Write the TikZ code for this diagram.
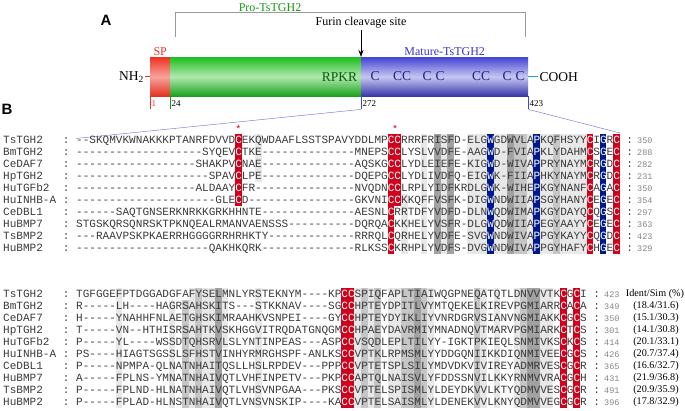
\documentclass[tikz,border=0pt]{standalone}
\usepackage{fontspec}
\setmainfont{Liberation Serif}
\setsansfont{Liberation Sans}
\setmonofont{Liberation Mono}
\usetikzlibrary{positioning,arrows.meta}
\definecolor{seqgray}{HTML}{3A3A3A}
\definecolor{numgray}{HTML}{858585}
\definecolor{cysred}{HTML}{D0021B}
\definecolor{consblue}{HTML}{00188F}
\definecolor{lgray}{HTML}{E8E8E8}
\definecolor{mgray}{HTML}{C6C6C6}
\definecolor{dgray}{HTML}{A2A2A2}
\definecolor{spred}{HTML}{EE3322}
\definecolor{progreen}{HTML}{1EBE1E}
\definecolor{matblue}{HTML}{4444D4}
\definecolor{protext}{HTML}{139A13}
\definecolor{mattext}{HTML}{3535C8}
\definecolor{rpkrgreen}{HTML}{0A5A0A}
\definecolor{cysblue}{HTML}{20207A}
\definecolor{zoomline}{HTML}{6A6AD0}
\definecolor{coohblue}{HTML}{2299EE}
\newcommand{\wh}[1]{\textcolor{white}{#1}}
\newcommand{\colx}[1]{76+(#1-1)*6.63}

\begin{document}
\begin{tikzpicture}[x=1pt,y=-1pt,
  seq/.style={font=\ttfamily\fontsize{11.05}{12}\selectfont, text=seqgray, inner sep=0pt, anchor=base west},
  seqnum/.style={font=\ttfamily\fontsize{8.5}{10}\selectfont, text=numgray, inner sep=0pt, anchor=base west},
  star/.style={font=\ttfamily\fontsize{10}{10}\selectfont, text=cysred, inner sep=0pt, anchor=base},
  lab/.style={font=\fontsize{13.5}{15}\selectfont, inner sep=1pt},
  tag/.style={font=\fontsize{12}{14}\selectfont, inner sep=1pt},
  poslab/.style={font=\fontsize{9}{10}\selectfont, inner sep=0pt, anchor=west},
  panel/.style={font=\sffamily\bfseries\fontsize{15}{15}\selectfont, inner sep=0pt},
  domainbox/.style={minimum height=39pt, inner sep=0pt, anchor=north west},
  simval/.style={font=\fontsize{10.2}{12}\selectfont, inner sep=0pt}]
\useasboundingbox (0,0) rectangle (685,410);

% A: domain structure
\node[panel] (panA) at (106,20) {A};
\node[domainbox, minimum width=20pt, top color=spred, bottom color=spred!95!black, middle color=spred!45] (sp) at (150,57) {};
\node[domainbox, minimum width=191pt, top color=progreen, bottom color=progreen!85!black, middle color=progreen!35] (pro) at (170,57) {};
\node[domainbox, minimum width=167pt, top color=matblue, bottom color=matblue!80!black, middle color=matblue!30] (mat) at (361,57) {};
\node[tag, text=spred, above=0pt of sp] (sptag) {SP};
\node[tag, text=mattext, above=0pt of mat] (mattag) {Mature-TsTGH2};
\node[tag, text=protext, anchor=south] (protag) at (270,12.5) {Pro-TsTGH2};
\node[tag] (furin) at (361,23) {Furin cleavage site};
\draw[gray!80, line width=1pt] (175,37) |- (525,12) -- (525,37);
\draw[-{Stealth[length=7pt,width=5pt]}, line width=0.8pt] (furin.south) -- (mat.north west);
\node[lab, left=5pt of sp.west] (nh2) {NH\textsubscript{2}};
\node[lab, right=10pt of mat.east] (cooh) {COOH};
\draw[spred, line width=1pt] (nh2) -- (sp);
\draw[coohblue, line width=1pt] (mat) -- (cooh);
\node[lab, text=rpkrgreen, left=3pt of pro.east] (rpkr) {RPKR};
\foreach \cx/\ct [count=\i] in {375/C, 402/CC, 427/C, 440/C, 481/CC, 507/C, 520/C}
  \node[lab, text=cysblue] (cys\i) at (\cx,76.5) {\ct};
\draw[spred] (sp.south west) -- ++(0,13) coordinate (t1);
\draw[progreen!80!black] (pro.south west) -- ++(0,13) coordinate (t24);
\draw[matblue] (mat.south west) -- ++(0,13) coordinate (t272);
\draw[matblue] (mat.south east) -- ++(0,13) coordinate (t423);
\node[poslab, text=spred] (p1) at (151.5,104) {1};
\node[poslab] (p24) at (171.5,104) {24};
\node[poslab] (p272) at (362.5,104) {272};
\node[poslab] (p423) at (529.5,104) {423};
\coordinate (zoomend) at (620,133);
\draw[zoomline] (t272) -- (76,138.5);
\draw[zoomline] (t423) -- (zoomend);

% B: alignment
\node[panel] (panB) at (7,109) {B};
% shading of conserved columns
\foreach \c/\a/\b/\lv in {28/1/4/lgray, 50/6/10/lgray, 53/1/10/lgray, 55/1/10/dgray, 56/1/10/lgray,
    57/1/10/dgray, 60/1/10/lgray, 61/1/10/lgray, 62/1/10/lgray, 64/1/10/lgray, 65/1/10/lgray,
    66/1/10/dgray, 67/1/10/mgray, 68/1/10/mgray, 69/1/10/lgray, 71/1/10/lgray, 72/1/10/lgray,
    73/1/10/mgray, 74/1/10/lgray, 75/1/10/lgray, 76/1/10/lgray, 77/1/10/lgray,
    25/1/6/cysred, 48/1/10/cysred, 49/1/6/cysred, 78/1/10/cysred, 82/1/10/cysred,
    63/1/10/consblue, 70/1/10/consblue, 80/1/10/consblue}
  \fill[\lv] ({\colx{\c}},{140+12*(\a-1)-6}) rectangle ({\colx{\c}+6.63},{140+12*(\b-1)+6});
\foreach \c/\a/\b/\lv in {7/1/10/lgray, 15/2/10/lgray, 17/2/10/mgray, 18/1/10/lgray, 19/1/10/mgray,
    20/1/10/lgray, 21/1/10/lgray, 22/1/10/dgray, 23/1/5/lgray, 28/1/10/lgray, 43/1/10/lgray,
    44/1/10/mgray, 45/1/10/lgray, 46/1/10/mgray, 48/1/10/lgray, 49/1/10/lgray, 50/1/10/mgray,
    51/1/10/mgray, 52/1/10/dgray, 53/1/10/mgray, 54/1/10/lgray, 61/1/10/mgray, 62/1/10/lgray,
    64/1/10/lgray, 67/1/10/lgray, 68/1/10/mgray, 69/1/10/dgray, 70/1/10/dgray, 71/1/10/lgray,
    72/1/10/lgray, 41/1/10/cysred, 42/1/10/cysred, 74/1/10/cysred, 76/1/10/cysred}
  \fill[\lv] ({\colx{\c}},{294+12*(\a-1)-6}) rectangle ({\colx{\c}+6.63},{294+12*(\b-1)+6});
\node[star] (ast1) at ({\colx{25}+3.3},132) {*};
\node[star] (ast2) at (395,132) {*};

\foreach \nm/\sq/\len [count=\r] in {
  TsTGH2/{--SKQMVKWNAKKKPTANRFDVVD\wh{C}EKQWDAAFLSSTSPAVYDDLMP\wh{C}\wh{C}RRRFRISFD-ELG\wh{W}GDWVLA\wh{P}KQFHSYY\wh{C}I\wh{G}R\wh{C}}/350,
  BmTGH2/{-------------------SYQEV\wh{C}TKE--------------MNEPS\wh{C}\wh{C}LYSLVVDFE-AAG\wh{W}D-FVIA\wh{P}KLYDAHM\wh{C}S\wh{G}E\wh{C}}/288,
  CeDAF7/{------------------SHAKPV\wh{C}NAE--------------AQSKG\wh{C}\wh{C}LYDLEIEFE-KIG\wh{W}D-WIVA\wh{P}PRYNAYM\wh{C}R\wh{G}D\wh{C}}/282,
  HpTGH2/{--------------------SPAV\wh{C}LPE--------------DQEPG\wh{C}\wh{C}LYDLIVDFQ-EIG\wh{W}K-FIIA\wh{P}HKYNAYM\wh{C}R\wh{G}D\wh{C}}/231,
  HuTGFb2/{------------------ALDAAY\wh{C}FR---------------NVQDN\wh{C}\wh{C}LRPLYIDFKRDLG\wh{W}K-WIHE\wh{P}KGYNANF\wh{C}A\wh{G}A\wh{C}}/350,
  HuINHB-A/{---------------------GLE\wh{C}D----------------GKVNI\wh{C}\wh{C}KKQFFVSFK-DIG\wh{W}NDWIIA\wh{P}SGYHANY\wh{C}E\wh{G}E\wh{C}}/354,
  CeDBL1/{------SAQTGNSERKNRKKGRKHHNTE--------------AESNL\wh{C}RRTDFYVDFD-DLN\wh{W}QDWIMA\wh{P}KGYDAYQ\wh{C}Q\wh{G}S\wh{C}}/297,
  HuBMP7/{STGSKQRSQNRSKTPKNQEALRMANVAENSSS----------DQRQA\wh{C}KKHELYVSFR-DLG\wh{W}QDWIIA\wh{P}EGYAAYY\wh{C}E\wh{G}E\wh{C}}/363,
  TsBMP2/{---RAAVPSKPKAERRHGGGGRRHRHKTY-------------RRRQL\wh{C}QRHELYVDFE-SVG\wh{W}NDWIVA\wh{P}PGYKAYY\wh{C}Q\wh{G}D\wh{C}}/423,
  HuBMP2/{--------------------QAKHKQRK--------------RLKSS\wh{C}KRHPLYVDFS-DVG\wh{W}NDWIVA\wh{P}PGYHAFY\wh{C}H\wh{G}E\wh{C}}/329}{
  \pgfmathsetmacro{\yb}{140+12*(\r-1)+3.3}
  \node[seq] (na\r) at (3,\yb) {\nm};
  \node[seq] (ca\r) at ({3+9*6.63},\yb) {:};
  \node[seq] (sa\r) at (76,\yb) {\sq};
  \node[seq] (ea\r) at ({\colx{84}},\yb) {:};
  \node[seqnum] (la\r) at (637,\yb) {\len};
}

\foreach \nm/\sq/\len [count=\r] in {
  TsTGH2/{TGFGGEFPTDGGADGFAFYSELMNLYRSTEKNYM----KP\wh{C}\wh{C}SPIQFAPLTIAIWQGPNEQATQTLDNVVVTK\wh{C}G\wh{C}I}/423,
  BmTGH2/{R-----LH----HAGRSAHSKITS---STKKNAV----SG\wh{C}\wh{C}HPTEYDPITLVYMTQEKELKIREVPGMIARR\wh{C}A\wh{C}A}/349,
  CeDAF7/{H-----YNAHHFNLAETGHSKIMRAAHKVSNPEI----GY\wh{C}\wh{C}HPTEYDYIKLIYVNRDGRVSIANVNGMIAKK\wh{C}G\wh{C}S}/350,
  HpTGH2/{T-----VN--HTHISRSAHTKVSKHGGVITRQDATGNQGM\wh{C}\wh{C}HPAEYDAVRMIYMNADNQVTMARVPGMIARK\wh{C}T\wh{C}S}/301,
  HuTGFb2/{P-----YL----WSSDTQHSRVLSLYNTINPEAS---ASP\wh{C}\wh{C}VSQDLEPLTILYY-IGKTPKIEQLSNMIVKS\wh{C}K\wh{C}S}/414,
  HuINHB-A/{PS----HIAGTSGSSLSFHSTVINHYRMRGHSPF-ANLKS\wh{C}\wh{C}VPTKLRPMSMLYYDDGQNIIKKDIQNMIVEE\wh{C}G\wh{C}S}/426,
  CeDBL1/{P-----NPMPA-QLNATNHAITQSLLHSLRPDEV---PPP\wh{C}\wh{C}VPTETSPLSILYMDVDKVIVIREYADMRVES\wh{C}G\wh{C}R}/365,
  HuBMP7/{A-----FPLNS-YMNATNHAIVQTLVHFINPETV---PKP\wh{C}\wh{C}APTQLNAISVLYFDDSSNVILKKYRNMVVRA\wh{C}G\wh{C}H}/431,
  TsBMP2/{P-----FPLND-HLNATNHAIVQTLVHSVNPGAA---PKS\wh{C}\wh{C}VPTELSPISMLYLDEYDKVVLKTYQDMVVES\wh{C}G\wh{C}R}/491,
  HuBMP2/{P-----FPLAD-HLNSTNHAIVQTLVNSVNSKIP----KA\wh{C}\wh{C}VPTELSAISMLYLDENEKVVLKNYQDMVVEG\wh{C}G\wh{C}R}/396}{
  \pgfmathsetmacro{\yb}{294+12*(\r-1)+3.3}
  \node[seq] (nb\r) at (3,\yb) {\nm};
  \node[seq] (cb\r) at ({3+9*6.63},\yb) {:};
  \node[seq] (sb\r) at (76,\yb) {\sq};
  \node[seq] (eb\r) at ({\colx{79}},\yb) {:};
  \node[seqnum] (lb\r) at (604,\yb) {\len};
}

\node[simval] (simhead) at (655,294) {Ident/Sim (\%)};
\foreach \v [count=\r from 2] in {18.4/31.6, 15.1/30.3, 14.1/30.8, 20.1/33.1, 20.7/37.4,
    16.6/32.7, 21.9/36.8, 20.9/35.9, 17.8/32.9}
  \node[simval] (sim\r) at (656,{294+12*(\r-1)}) {(\v)};
\end{tikzpicture}
\end{document}
